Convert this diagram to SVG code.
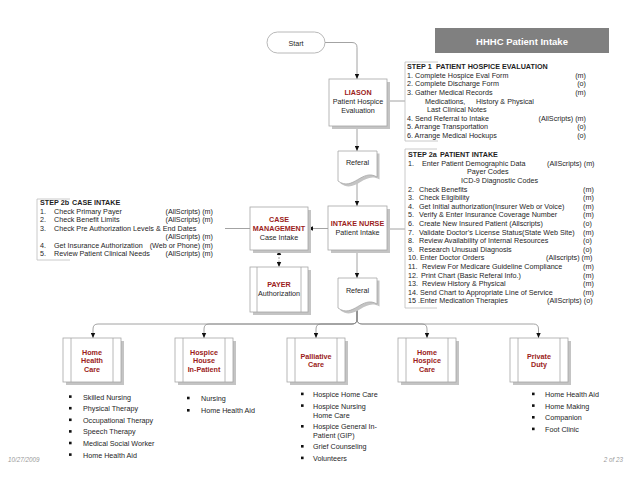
<svg xmlns="http://www.w3.org/2000/svg" width="638" height="493" viewBox="0 0 638 493">
<defs>
<style>
text{font-family:"Liberation Sans",Arial,sans-serif;font-size:7.2px;fill:#1e1e1e}
.b{font-weight:bold}
.r{fill:#9b1c20;font-weight:bold}
.c{text-anchor:middle}
.e{text-anchor:end}
.box{fill:#fff;stroke:#a6a6a6;stroke-width:0.8}
.sh{fill:#c4c4c4}
.ln{fill:none;stroke:#8c8c8c;stroke-width:0.8}
.br{fill:none;stroke:#bdbdbd;stroke-width:0.8}
.ft{font-size:6.3px;fill:#9a9a9a;font-style:italic}
</style>
<marker id="a" markerWidth="5" markerHeight="5" refX="5" refY="2.5" orient="auto-start-reverse" markerUnits="userSpaceOnUse"><path d="M0,0.3 L5,2.5 L0,4.7z" fill="#111"/></marker>
<path id="doc" d="M0,0 H39 V26 C24,17 15,41 0,30 Z"/>
</defs>
<rect width="638" height="493" fill="#fff"/>

<g id="title">
<rect x="435" y="28" width="174" height="25" fill="#808080"/>
<text x="522" y="44.5" class="c b" style="font-size:9.5px;fill:#fff">HHHC Patient Intake</text>
</g>

<g id="connectors">
<path class="ln" d="M325,42.5 H352 Q357,42.5 357,47.5 V79" marker-end="url(#a)"/>
<path class="ln" d="M357,126 V151" marker-end="url(#a)"/>
<path class="ln" d="M357,180 V206" marker-end="url(#a)"/>
<path class="ln" d="M387,101 H405"/>
<path class="ln" d="M387,229 H405"/>
<path class="ln" d="M328,228.5 H308" marker-end="url(#a)"/>
<path class="ln" d="M225,228.5 H250"/>
<path class="ln" d="M279,250 V267" stroke-dasharray="2,1.5" marker-start="url(#a)" marker-end="url(#a)"/>
<path class="ln" d="M357,250 V278" marker-end="url(#a)"/>
<path class="ln" d="M357,307 V319 Q357,324 352,324 H98 Q93,324 93,329 V338" marker-end="url(#a)"/>
<path class="ln" d="M357,307 V319 Q357,324 352,324 H209 Q204,324 204,329 V338" marker-end="url(#a)"/>
<path class="ln" d="M357,307 V319 Q357,324 352,324 H321 Q316,324 316,329 V338" marker-end="url(#a)"/>
<path class="ln" d="M357,307 V319 Q357,324 362,324 H422 Q427,324 427,329 V338" marker-end="url(#a)"/>
<path class="ln" d="M357,307 V319 Q357,324 362,324 H533.5 Q538.5,324 538.5,329 V338" marker-end="url(#a)"/>
</g>

<g id="start">
<rect x="267" y="32" width="58" height="21" rx="10.5" fill="#fff" stroke="#a6a6a6" stroke-width="0.8"/>
<text x="296" y="45.6" class="c">Start</text>
</g>

<g id="liason">
<rect class="sh" x="332" y="82" width="58" height="47"/>
<rect class="box" x="329" y="79" width="58" height="47"/>
<text x="358" y="94.6" class="c r">LIASON</text>
<text x="358" y="103.6" class="c">Patient Hospice</text>
<text x="358" y="112.6" class="c">Evaluation</text>
</g>

<g id="referal1">
<use href="#doc" x="340.5" y="153.5" class="sh"/>
<use href="#doc" x="338" y="151" class="box"/>
<text x="357.5" y="164.6" class="c">Referal</text>
</g>

<g id="intake-nurse">
<rect class="sh" x="331" y="209" width="59" height="44"/>
<rect class="box" x="328" y="206" width="59" height="44"/>
<text x="357.5" y="226" class="c r">INTAKE NURSE</text>
<text x="357.5" y="234.6" class="c">Patient Intake</text>
</g>

<g id="case-management">
<rect class="sh" x="253" y="210" width="58" height="43"/>
<rect class="box" x="250" y="207" width="58" height="43"/>
<text x="279" y="221.6" class="c r">CASE</text>
<text x="279" y="230.6" class="c r">MANAGEMENT</text>
<text x="279" y="239.6" class="c">Case Intake</text>
</g>

<g id="payer">
<rect class="sh" x="253" y="270" width="58" height="45"/>
<rect class="box" x="250" y="267" width="58" height="45"/>
<path class="br" d="M257,267 V312 M301,267 V312" style="stroke:#a6a6a6"/>
<text x="279" y="286.6" class="c r">PAYER</text>
<text x="279" y="295.6" class="c">Authorization</text>
</g>

<g id="referal2">
<use href="#doc" x="340.5" y="280.5" class="sh"/>
<use href="#doc" x="338" y="278" class="box"/>
<text x="357.5" y="292.6" class="c">Referal</text>
</g>

<g id="step1">
<path class="br" d="M438,62 H405 V141 H438"/>
<text y="69.2" class="b"><tspan x="407">STEP 1</tspan><tspan x="436">PATIENT HOSPICE EVALUATION</tspan></text>
<text y="77.8"><tspan x="407">1.</tspan><tspan x="415">Complete Hospice Eval Form</tspan></text>
<text x="586" y="77.8" class="e">(m)</text>
<text y="86.4"><tspan x="407">2.</tspan><tspan x="415">Complete Discharge Form</tspan></text>
<text x="586" y="86.4" class="e">(o)</text>
<text y="95"><tspan x="407">3.</tspan><tspan x="415">Gather Medical Records</tspan></text>
<text x="586" y="95" class="e">(m)</text>
<text y="103.6"><tspan x="425">Medications,</tspan><tspan x="476">History &amp; Physical</tspan></text>
<text x="427" y="112.2">Last Clinical Notes</text>
<text x="407" y="120.8">4. Send Referral to Intake</text>
<text x="586" y="120.8" class="e">(AllScripts) (m)</text>
<text x="407" y="129.4">5. Arrange Transportation</text>
<text x="586" y="129.4" class="e">(o)</text>
<text x="407" y="138">6. Arrange Medical Hockups</text>
<text x="586" y="138" class="e">(o)</text>
</g>

<g id="step2a">
<path class="br" d="M437,149 H405 V308 H437"/>
<text y="157.1" class="b"><tspan x="408">STEP 2a</tspan><tspan x="440">PATIENT INTAKE</tspan></text>
<text y="165.7"><tspan x="408">1.</tspan><tspan x="422">Enter Patient Demographic Data</tspan><tspan x="547">(AllScripts) (m)</tspan></text>
<text x="467" y="174.3">Payer Codes</text>
<text x="461" y="182.9">ICD-9 Diagnostic Codes</text>
<text y="191.5"><tspan x="408">2.</tspan><tspan x="419">Check Benefits</tspan><tspan x="583">(m)</tspan></text>
<text y="200.1"><tspan x="408">3.</tspan><tspan x="419">Check Eligibility</tspan><tspan x="583">(m)</tspan></text>
<text y="208.7"><tspan x="408">4.</tspan><tspan x="419">Get Initial authorization(Insurer Web or Voice)</tspan><tspan x="583">(m)</tspan></text>
<text y="217.3"><tspan x="408">5.</tspan><tspan x="419">Verify &amp; Enter Insurance Coverage Number</tspan><tspan x="583">(m)</tspan></text>
<text y="225.9"><tspan x="408">6.</tspan><tspan x="419">Create New Insured Patient (Allscripts)</tspan><tspan x="583">(o)</tspan></text>
<text y="234.5"><tspan x="408">7.</tspan><tspan x="419">Validate Doctor’s License Status(State Web Site)</tspan><tspan x="583">(m)</tspan></text>
<text y="243.1"><tspan x="408">8.</tspan><tspan x="419">Review Availability of Internal Resources</tspan><tspan x="583">(o)</tspan></text>
<text y="251.7"><tspan x="408">9.</tspan><tspan x="419">Research Unusual Diagnosis</tspan><tspan x="583">(o)</tspan></text>
<text y="260.3"><tspan x="408">10. Enter Doctor Orders</tspan><tspan x="546">(Allscripts) (m)</tspan></text>
<text y="268.9"><tspan x="408">11.</tspan><tspan x="422">Review For Medicare Guideline Compliance</tspan><tspan x="583">(m)</tspan></text>
<text y="277.5"><tspan x="408">12.</tspan><tspan x="421">Print Chart (Basic Referal Info.)</tspan><tspan x="583">(m)</tspan></text>
<text y="286.1"><tspan x="408">13.</tspan><tspan x="422">Review History &amp; Physical</tspan><tspan x="583">(m)</tspan></text>
<text y="294.7"><tspan x="408">14. Send Chart to Appropriate Line of Service</tspan><tspan x="583">(m)</tspan></text>
<text y="303.3"><tspan x="408">15 .Enter Medication Therapies</tspan><tspan x="547">(AllScripts) (o)</tspan></text>
</g>

<g id="step2b">
<path class="br" d="M70,199 H37 V260 H70"/>
<text y="205" class="b"><tspan x="40">STEP 2b</tspan><tspan x="72">CASE INTAKE</tspan></text>
<text y="213.5"><tspan x="40">1.</tspan><tspan x="54">Check Primary Payer</tspan></text>
<text x="213" y="213.5" class="e">(AllScripts) (m)</text>
<text y="222"><tspan x="40">2.</tspan><tspan x="54">Check Benefit Limits</tspan></text>
<text x="213" y="222" class="e">(AllScripts) (m)</text>
<text y="230.5"><tspan x="40">3.</tspan><tspan x="54">Check Pre Authorization Levels &amp; End Dates</tspan></text>
<text x="213" y="239" class="e">(AllScripts) (m)</text>
<text y="247.5"><tspan x="40">4.</tspan><tspan x="54">Get Insurance Authorization</tspan></text>
<text x="213" y="247.5" class="e">(Web or Phone) (m)</text>
<text y="256"><tspan x="40">5.</tspan><tspan x="54">Review Patient Clinical Needs</tspan></text>
<text x="213" y="256" class="e">(AllScripts) (m)</text>
</g>

<g id="home-health-care">
<rect class="sh" x="66" y="341" width="58" height="44"/>
<rect class="box" x="63" y="338" width="58" height="44"/>
<path class="br" d="M71,338 V382 M113,338 V382" style="stroke:#a6a6a6"/>
<text x="92" y="354.6" class="c r">Home</text>
<text x="92" y="363.4" class="c r">Health</text>
<text x="92" y="372.2" class="c r">Care</text>
</g>

<g id="hospice-house">
<rect class="sh" x="178" y="341" width="58" height="44"/>
<rect class="box" x="175" y="338" width="58" height="44"/>
<path class="br" d="M183,338 V382 M225,338 V382" style="stroke:#a6a6a6"/>
<text x="204" y="354.6" class="c r">Hospice</text>
<text x="204" y="363.4" class="c r">House</text>
<text x="204" y="372.2" class="c r">In-Patient</text>
</g>

<g id="palliative-care">
<rect class="sh" x="290" y="341" width="58" height="44"/>
<rect class="box" x="287" y="338" width="58" height="44"/>
<path class="br" d="M295,338 V382 M337,338 V382" style="stroke:#a6a6a6"/>
<text x="316" y="358.6" class="c r">Palliative</text>
<text x="316" y="367.4" class="c r">Care</text>
</g>

<g id="home-hospice-care">
<rect class="sh" x="401" y="341" width="58" height="44"/>
<rect class="box" x="398" y="338" width="58" height="44"/>
<path class="br" d="M406,338 V382 M448,338 V382" style="stroke:#a6a6a6"/>
<text x="427" y="354.6" class="c r">Home</text>
<text x="427" y="363.4" class="c r">Hospice</text>
<text x="427" y="372.2" class="c r">Care</text>
</g>

<g id="private-duty">
<rect class="sh" x="513" y="341" width="58" height="44"/>
<rect class="box" x="510" y="338" width="58" height="44"/>
<path class="br" d="M518,338 V382 M560,338 V382" style="stroke:#a6a6a6"/>
<text x="539" y="358.6" class="c r">Private</text>
<text x="539" y="367.4" class="c r">Duty</text>
</g>

<g id="list1">
<rect x="69" y="395.3" width="2.6" height="2.6" fill="#111"/><text x="83" y="399.6">Skilled Nursing</text>
<rect x="69" y="406.9" width="2.6" height="2.6" fill="#111"/><text x="83" y="411.2">Physical Therapy</text>
<rect x="69" y="418.5" width="2.6" height="2.6" fill="#111"/><text x="83" y="422.8">Occupational Therapy</text>
<rect x="69" y="430.1" width="2.6" height="2.6" fill="#111"/><text x="83" y="434.4">Speech Therapy</text>
<rect x="69" y="441.7" width="2.6" height="2.6" fill="#111"/><text x="83" y="446">Medical Social Worker</text>
<rect x="69" y="453.3" width="2.6" height="2.6" fill="#111"/><text x="83" y="457.6">Home Health Aid</text>
</g>

<g id="list2">
<rect x="187" y="396.7" width="2.6" height="2.6" fill="#111"/><text x="201" y="401">Nursing</text>
<rect x="187" y="409" width="2.6" height="2.6" fill="#111"/><text x="201" y="413.3">Home Health Aid</text>
</g>

<g id="list3">
<rect x="301" y="392.6" width="2.6" height="2.6" fill="#111"/><text x="313" y="396.9">Hospice Home Care</text>
<rect x="301" y="404.3" width="2.6" height="2.6" fill="#111"/><text x="313" y="408.6">Hospice Nursing</text>
<text x="313" y="417.6">Home Care</text>
<rect x="301" y="425" width="2.6" height="2.6" fill="#111"/><text x="313" y="429.3">Hospice General In-</text>
<text x="313" y="438.3">Patient (GIP)</text>
<rect x="301" y="445" width="2.6" height="2.6" fill="#111"/><text x="313" y="449.3">Grief Counseling</text>
<rect x="301" y="456.6" width="2.6" height="2.6" fill="#111"/><text x="313" y="460.9">Volunteers</text>
</g>

<g id="list4">
<rect x="532" y="392.6" width="2.6" height="2.6" fill="#111"/><text x="545" y="396.9">Home Health Aid</text>
<rect x="532" y="404.3" width="2.6" height="2.6" fill="#111"/><text x="545" y="408.6">Home Making</text>
<rect x="532" y="416" width="2.6" height="2.6" fill="#111"/><text x="545" y="420.3">Companion</text>
<rect x="532" y="427.6" width="2.6" height="2.6" fill="#111"/><text x="545" y="431.9">Foot Clinic</text>
</g>

<g id="footer">
<text x="8" y="462.2" class="ft">10/27/2009</text>
<text x="623" y="462.2" class="ft e">2 of 23</text>
</g>
</svg>
